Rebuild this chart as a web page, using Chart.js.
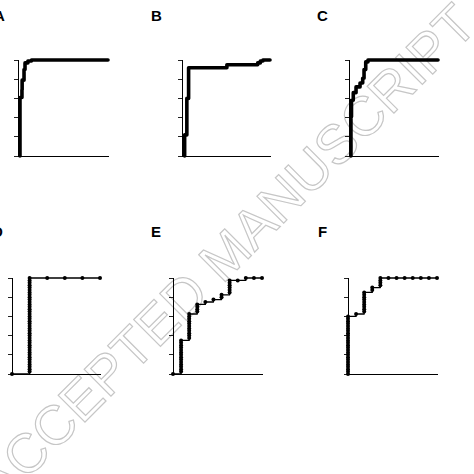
<!DOCTYPE html>
<html>
<head>
<meta charset="utf-8">
<script src="https://cdn.jsdelivr.net/npm/chart.js@4/dist/chart.umd.min.js"></script>
<style>
  html, body { margin: 0; padding: 0; background: #fff; }
  body { width: 474px; height: 474px; position: relative; overflow: hidden; }
  .panel { position: absolute; z-index: 2; }
  .lbl { position: absolute; font: bold 15px "Liberation Sans", Arial, sans-serif; line-height: 15px; color: #000; z-index: 2; }
  .wm {
    position: absolute; left: 226px; top: 254px;
    transform: translate(-50%, -50%) rotate(-45deg);
    font: 55px "Liberation Sans", Arial, sans-serif; white-space: nowrap;
    color: transparent; -webkit-text-stroke: 1.2px #c6c6c6;
    pointer-events: none; z-index: 1;
  }
</style>
</head>
<body>
<div class="lbl" style="left:-6px;top:8px">A</div>
<div class="lbl" style="left:151px;top:8px">B</div>
<div class="lbl" style="left:317px;top:8px">C</div>
<div class="lbl" style="left:-8px;top:224px">D</div>
<div class="lbl" style="left:151px;top:224px">E</div>
<div class="lbl" style="left:318px;top:224px">F</div>
<div class="wm">ACCEPTED MANUSCRIPT</div>

<script>
// top row: cumulative % (thick step curves), x in axis units 0-100
const aX = [2.2, 2.2, 4.4, 4.6, 6.7, 7.8, 11, 15, 100];
const aY = [0, 61, 69, 79, 90, 97, 99, 100, 100];
const bX = [3, 3, 5.5, 7.5, 51, 86, 89, 92, 100];
const bY = [0, 22, 60, 92, 95, 97, 99, 100, 100];
const cX = [2.2, 2.2, 2.8, 4.8, 7.9, 12.4, 15.4, 16.9, 18.8, 21.3, 100];
const cY = [0, 41, 58, 66, 72, 76, 81, 90, 98, 100, 100];

// bottom row: number of samples at each x value
const dXs = [0, 1, 2, 3, 4, 5];
const dCounts = [0, 40, 0, 0, 0, 0];
const eXs = [0, 1, 2, 3, 4, 5, 6, 7, 8, 9, 10, 11];
const eCounts = [0, 14, 11, 4, 1, 1, 2, 6, 0, 1, 0, 0];
const fXs = [0, 1, 2, 3, 4, 5, 6, 7, 8, 9, 10, 11];
const fCounts = [24, 1, 9, 2, 4, 0, 0, 0, 0, 0, 0, 0];

const yTicks = [0, 20, 40, 60, 80, 100];

function pairs(xs, ys) {
  return xs.map((x, i) => ({ x: x, y: ys[i] }));
}

// cumulative % points, one per sample
function cumPoints(xs, counts) {
  const n = counts.reduce((a, b) => a + b, 0);
  const pts = [{ x: xs[0], y: 0 }];
  let c = 0;
  xs.forEach((x, i) => {
    if (counts[i] === 0) {
      if (i > 0) pts.push({ x: x, y: c * 100 / n });
    } else {
      for (let k = 0; k < counts[i]; k++) {
        c++;
        pts.push({ x: x, y: c * 100 / n });
      }
    }
  });
  return pts;
}

function makePanel(L, T, R, B, xMax, data, thick) {
  const div = document.createElement("div");
  div.className = "panel";
  const w = (R - L) + 18, h = (B - T) + 16;
  div.style.left = (L - 10) + "px";
  div.style.top = (T - 8) + "px";
  div.style.width = w + "px";
  div.style.height = h + "px";
  const cv = document.createElement("canvas");
  cv.width = w; cv.height = h;
  cv.style.width = w + "px"; cv.style.height = h + "px";
  div.appendChild(cv);
  document.body.appendChild(div);

  new Chart(cv, {
    type: "line",
    data: {
      datasets: [{
        data: data,
        stepped: "before",
        borderColor: "#000",
        backgroundColor: "#000",
        borderWidth: thick ? 3.6 : 1.3,
        borderCapStyle: "round",
        borderJoinStyle: "round",
        pointRadius: thick ? 0 : 2,
        pointBorderWidth: 0,
        pointBackgroundColor: "#000",
        clip: false
      }]
    },
    options: {
      responsive: false,
      animation: false,
      layout: { autoPadding: false, padding: { left: 4, top: 8, right: 8, bottom: 8 } },
      plugins: { legend: { display: false }, tooltip: { enabled: false } },
      scales: {
        x: {
          type: "linear", min: 0, max: xMax,
          ticks: { display: false },
          grid: { display: false },
          border: { display: true, color: "#000", width: 1 },
          afterFit: s => { s.height = 0; }
        },
        y: {
          min: 0, max: 100,
          afterBuildTicks: s => { s.ticks = yTicks.map(v => ({ value: v })); },
          ticks: { display: false },
          grid: { drawOnChartArea: false, drawTicks: true, tickLength: 4, color: "#222", lineWidth: 1 },
          border: { display: true, color: "#000", width: 1 },
          afterFit: s => { s.width = 6; }
        }
      }
    }
  });
}

makePanel(18, 60, 108, 156, 100, pairs(aX, aY), true);
makePanel(182, 60, 270, 156, 100, pairs(bX, bY), true);
makePanel(349, 60, 438, 156, 100, pairs(cX, cY), true);
makePanel(12, 278, 100, 374, 5, cumPoints(dXs, dCounts), false);
makePanel(173, 278, 262, 374, 11, cumPoints(eXs, eCounts), false);
makePanel(348, 278, 437, 374, 11, cumPoints(fXs, fCounts), false);
</script>
</body>
</html>
